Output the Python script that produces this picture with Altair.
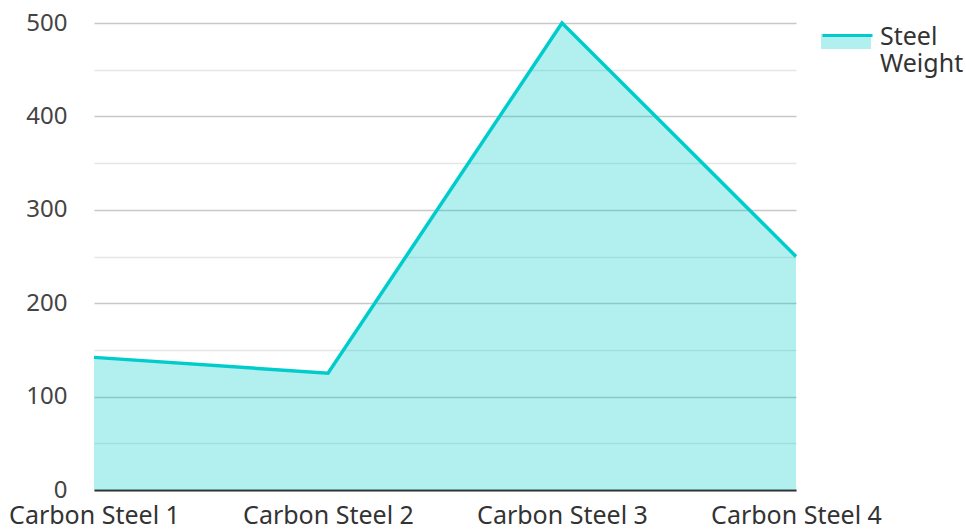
import altair as alt
import pandas as pd

categories = ["Carbon Steel 1", "Carbon Steel 2", "Carbon Steel 3", "Carbon Steel 4"]
values = [142, 125, 500, 250]
series_name = "Steel Weight"

df = pd.DataFrame({"category": categories, "value": values, "series": [series_name] * len(categories)})

FONT = "Noto Sans"
LINE = "#00cccc"
FS = 25

x_enc = alt.X(
    "category:N",
    sort=categories,
    scale=alt.Scale(type="point", padding=0),
    axis=alt.Axis(
        title=None,
        labelAngle=0,
        ticks=False,
        domainColor="#333333",
        domainWidth=2,
        grid=False,
        labelPadding=13,
        labelFontSize=FS,
        labelFont=FONT,
        labelColor="#333333",
    ),
)
y_enc = alt.Y(
    "value:Q",
    scale=alt.Scale(domain=[0, 500], nice=False),
    axis=alt.Axis(
        title=None,
        values=list(range(0, 501, 50)),
        labelExpr="datum.value % 100 === 0 ? datum.label : ''",
        domain=False,
        ticks=False,
        labelPadding=27,
        labelFontSize=24,
        labelFont=FONT,
        labelColor="#444444",
        gridColor={"condition": {"test": "datum.value % 100 === 0", "value": "#c8c8c8"}, "value": "#e6e6e6"},
        gridWidth=1.5,
    ),
)

area = alt.Chart(df).mark_area(opacity=0.3).encode(
    x=x_enc,
    y=y_enc,
    fill=alt.Fill(
        "series:N",
        scale=alt.Scale(range=[LINE]),
        legend=alt.Legend(
            title=None,
            orient="none",
            legendX=727,
            legendY=-11,
            symbolType="M-1,-0.12H1V0.48H-1Z",
            symbolSize=2500,
            symbolOpacity=0.3,
            symbolStrokeWidth=0,
            labelFont=FONT,
            labelFontSize=FS,
            labelColor="#333333",
            labelOffset=9,
            labelExpr="split(datum.label, ' ')",
            labelLimit=200,
        ),
    ),
)

line = alt.Chart(df).mark_line(strokeWidth=3.5).encode(
    x=x_enc,
    y=y_enc,
    stroke=alt.Stroke(
        "series:N",
        scale=alt.Scale(range=[LINE]),
        legend=alt.Legend(
            title=None,
            orient="none",
            legendX=727,
            legendY=-11,
            symbolType="M-1,-0.12H1",
            symbolSize=2500,
            symbolStrokeWidth=3,
            labelFont=FONT,
            labelFontSize=FS,
            labelOffset=9,
            labelExpr="''",
            labelLimit=200,
        ),
    ),
)

chart = alt.layer(area, line).properties(
    width=702,
    height=467,
    autosize=alt.AutoSizeParams(type="none"),
    padding={"left": 94, "top": 23, "right": 170, "bottom": 41},
).configure(font=FONT).configure_view(strokeWidth=0, stroke="transparent")

chart.save("out.html", embed_options={"renderer": "svg", "actions": False})
